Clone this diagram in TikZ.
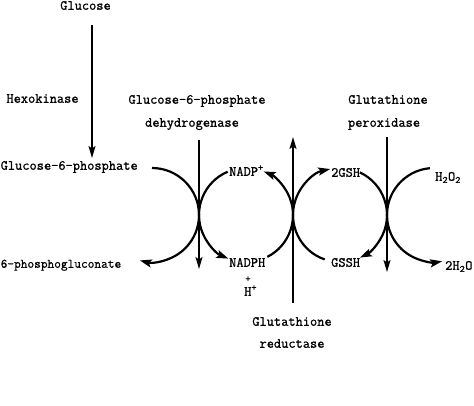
\documentclass[tikz,border=0pt]{standalone}
\usepackage{fontspec}
\newfontfamily\tw[FakeBold=1]{Latin Modern Mono}
\usetikzlibrary{arrows.meta}
\begin{document}
\begin{tikzpicture}[x=1pt,y=-1pt,
  lbl/.style={inner sep=0pt, font=\tw\fontsize{14}{16}\selectfont, text height=8.5pt, text depth=3pt},
  flow/.style={line width=1.7pt, -{Stealth[length=12pt,width=7pt,inset=2.5pt]}},
  cyc/.style={line width=2.2pt, -{Stealth[length=12pt,width=8pt,inset=2.5pt]}}]
\useasboundingbox (0,0) rectangle (474,405);
% labels
\node[lbl] (glc) at (85.5,7) {Glucose};
\node[lbl] (hex) at (42.5,100) {Hexokinase};
\node[lbl,anchor=west] (g6p) at (0.5,167) {Glucose-6-phosphate};
\node[lbl,anchor=west,font=\tw\fontsize{13}{15}\selectfont] (pg) at (0.5,265) {6-phosphogluconate};
\node[lbl] (gpda) at (197,101) {Glucose-6-phosphate};
\node[lbl] (gpdb) at (192,124) {dehydrogenase};
\node[lbl] (gpxa) at (388,101) {Glutathione};
\node[lbl] (gpxb) at (384,124) {peroxidase};
\node[lbl] (gra) at (292,323) {Glutathione};
\node[lbl] (grb) at (292,345) {reductase};
\node[lbl,anchor=west] (nadp) at (229,173) {NADP\textsuperscript{+}};
\node[lbl,anchor=west] (nadph) at (229,264) {NADPH};
\node[lbl,font=\tw\fontsize{10}{12}\selectfont] (plus) at (248,279) {+};
\node[lbl,anchor=west] (hplus) at (244,293) {H\textsuperscript{+}};
\node[lbl,anchor=west] (gsh) at (331,174) {2GSH};
\node[lbl,anchor=west] (gssh) at (331,264) {GSSH};
\node[lbl,anchor=west] (hoo) at (435,178) {H\textsubscript{2}O\textsubscript{2}};
\node[lbl,anchor=west] (hho) at (445,267) {2H\textsubscript{2}O};
% straight arrows
\coordinate (a1s) at (92,25);  \coordinate (a1e) at (92,158);
\coordinate (d1t) at (199,140); \coordinate (d1b) at (199,269);
\coordinate (u1b) at (293,303); \coordinate (u1t) at (293,137);
\coordinate (d2t) at (387,137); \coordinate (d2b) at (387,272);
\draw[flow] (a1s) -- (a1e);
\draw[flow] (d1t) -- (d1b);
\draw[flow] (u1b) -- (u1t);
\draw[flow] (d2t) -- (d2b);
% circle centres
\coordinate (cA) at (152,215);
\coordinate (cB) at (246,215);
\coordinate (cC) at (340,215);
\coordinate (cD) at (434,215);
% arcs
\draw[cyc] ([shift={(90:47pt)}]cA) arc[start angle=90,end angle=-105,radius=47pt];
\draw[cyc] ([shift={(113:47pt)}]cB) arc[start angle=113,end angle=248,radius=47pt];
\draw[cyc] ([shift={(-63:47pt)}]cB) arc[start angle=-63,end angle=68,radius=47pt];
\draw[cyc] ([shift={(251:47pt)}]cC) arc[start angle=251,end angle=102,radius=47pt];
\draw[cyc] ([shift={(65:47pt)}]cC) arc[start angle=65,end angle=-65,radius=47pt];
\draw[cyc] ([shift={(95:47pt)}]cD) arc[start angle=95,end angle=280,radius=47pt];
\end{tikzpicture}
\end{document}
